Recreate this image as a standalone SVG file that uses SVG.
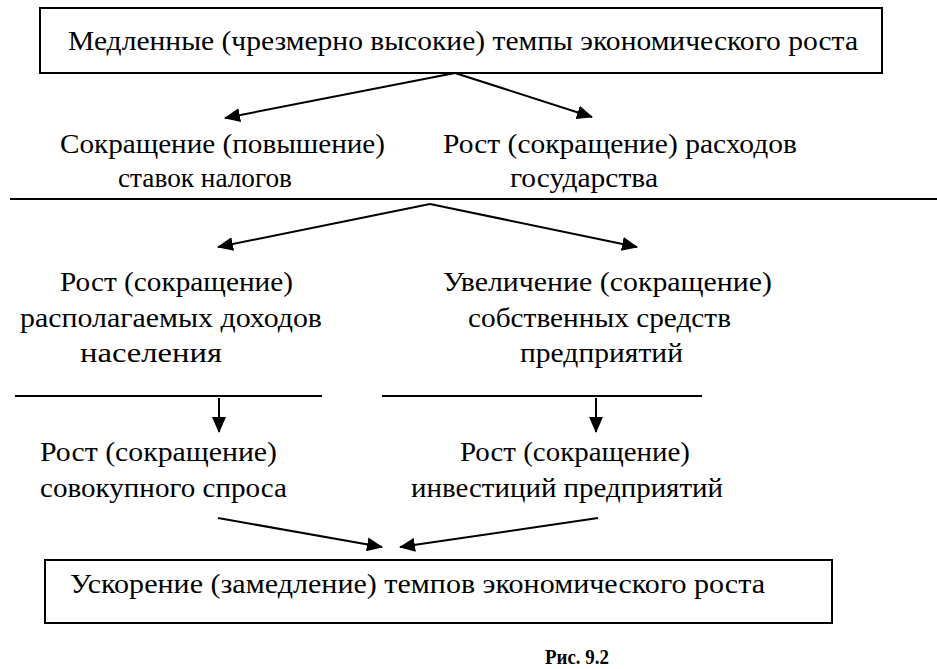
<svg xmlns="http://www.w3.org/2000/svg" width="937" height="669" viewBox="0 0 937 669">
<style>
text{font-family:"Liberation Serif","Times New Roman","DejaVu Serif",serif;font-size:27px;fill:#000}
.b{fill:#fff;stroke:#000;stroke-width:2}
.l{stroke:#000;stroke-width:2;fill:none}
</style>
<defs>
<marker id="ar2" markerWidth="16" markerHeight="14" refX="15" refY="7" orient="auto" markerUnits="userSpaceOnUse" viewBox="0 0 16 14"><path d="M0,0L16,7L0,14z" fill="#000"/></marker></defs>
<g id="top"><rect class="b" x="40" y="8" width="842" height="65"/><text x="68" y="50" textLength="790" lengthAdjust="spacingAndGlyphs">Медленные (чрезмерно высокие) темпы экономического роста</text></g>
<g id="n1"><text x="60" y="153" textLength="325" lengthAdjust="spacingAndGlyphs">Сокращение (повышение)</text><text x="118" y="187" textLength="174" lengthAdjust="spacingAndGlyphs">ставок налогов</text></g>
<g id="n2"><text x="443" y="153" textLength="354" lengthAdjust="spacingAndGlyphs">Рост (сокращение) расходов</text><text x="510" y="187" textLength="148" lengthAdjust="spacingAndGlyphs">государства</text></g>
<g id="n3"><text x="60" y="291" textLength="233" lengthAdjust="spacingAndGlyphs">Рост (сокращение)</text><text x="20" y="327" textLength="302" lengthAdjust="spacingAndGlyphs">располагаемых доходов</text><text x="80" y="362" textLength="142" lengthAdjust="spacingAndGlyphs">населения</text></g>
<g id="n4"><text x="443" y="291" textLength="329" lengthAdjust="spacingAndGlyphs">Увеличение (сокращение)</text><text x="468" y="327" textLength="263" lengthAdjust="spacingAndGlyphs">собственных средств</text><text x="520" y="362" textLength="163" lengthAdjust="spacingAndGlyphs">предприятий</text></g>
<g id="n5"><text x="40" y="461" textLength="237" lengthAdjust="spacingAndGlyphs">Рост (сокращение)</text><text x="40" y="497" textLength="247" lengthAdjust="spacingAndGlyphs">совокупного спроса</text></g>
<g id="n6"><text x="460" y="461" textLength="230" lengthAdjust="spacingAndGlyphs">Рост (сокращение)</text><text x="411" y="497" textLength="312" lengthAdjust="spacingAndGlyphs">инвестиций предприятий</text></g>
<g id="bottom"><rect class="b" x="45" y="560" width="787" height="63"/><text x="70" y="593" textLength="695" lengthAdjust="spacingAndGlyphs">Ускорение (замедление) темпов экономического роста</text></g>
<g id="caption"><text x="545" y="664" textLength="64" lengthAdjust="spacingAndGlyphs" style="font-weight:bold;font-size:20px">Рис. 9.2</text></g>
<g id="connectors">
<line class="l" x1="10" y1="199" x2="937" y2="199"/>
<line class="l" x1="15" y1="396" x2="322" y2="396"/>
<line class="l" x1="382" y1="396" x2="702" y2="396"/>
<line class="l" x1="455" y1="73" x2="225" y2="118" marker-end="url(#ar2)"/>
<line class="l" x1="455" y1="73" x2="592" y2="117" marker-end="url(#ar2)"/>
<line class="l" x1="430" y1="204" x2="218" y2="247" marker-end="url(#ar2)"/>
<line class="l" x1="430" y1="204" x2="637" y2="247" marker-end="url(#ar2)"/>
<line class="l" x1="219" y1="398" x2="219" y2="432" marker-end="url(#ar2)"/>
<line class="l" x1="596" y1="398" x2="596" y2="432" marker-end="url(#ar2)"/>
<line class="l" x1="218" y1="518" x2="382" y2="547" marker-end="url(#ar2)"/>
<line class="l" x1="598" y1="518" x2="400" y2="547" marker-end="url(#ar2)"/>
</g>
</svg>
